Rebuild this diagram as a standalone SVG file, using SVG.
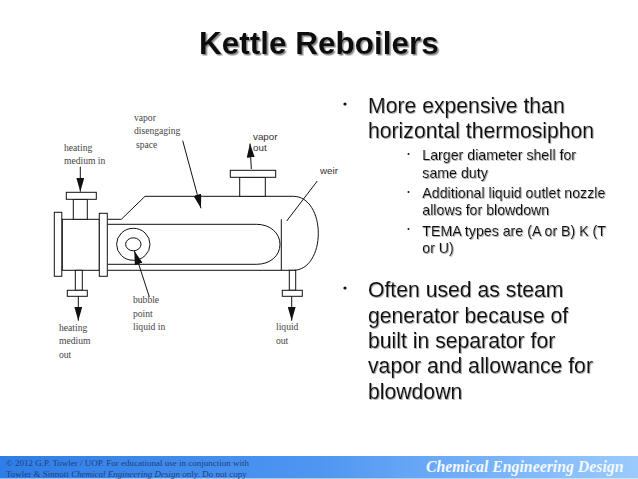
<svg xmlns="http://www.w3.org/2000/svg" width="638" height="479" viewBox="0 0 638 479">
<style>
.ln{fill:none;stroke:#111;stroke-width:1}
.box{fill:#fff;stroke:#111;stroke-width:1}
.lbl{font-family:"Liberation Serif",serif;font-size:9.6px;fill:#444}
.sl{font-family:"Liberation Sans",sans-serif;font-size:9.8px;fill:#333}
.t1{font-family:"Liberation Sans",sans-serif;font-size:21.2px;fill:#111;filter:url(#sh)}
.t2{font-family:"Liberation Sans",sans-serif;font-size:14.2px;fill:#111;filter:url(#sh)}
.title{font-family:"Liberation Sans",sans-serif;font-size:31.5px;font-weight:bold;fill:#111;filter:url(#sh2)}
.bu{fill:#111}
.ft{font-family:"Liberation Serif",serif;font-size:9px;fill:#1d4278}
</style>
<defs>
<filter id="sh" x="-5%" y="-20%" width="110%" height="150%"><feDropShadow dx="0.8" dy="0.8" stdDeviation="0.4" flood-color="#999"/></filter>
<filter id="sh2" x="-5%" y="-20%" width="110%" height="150%"><feDropShadow dx="1.5" dy="1.5" stdDeviation="0.6" flood-color="#888"/></filter>
<linearGradient id="bar" x1="0" x2="1" y1="0" y2="0"><stop offset="0" stop-color="#2f7de6"/><stop offset="0.5" stop-color="#4f96f2"/><stop offset="1" stop-color="#9bcbfd"/></linearGradient>
<marker id="ah" markerUnits="userSpaceOnUse" markerWidth="14" markerHeight="8" refX="14" refY="4" viewBox="0 0 14 8" orient="auto"><path d="M0 0L14 4L0 8Z" fill="#111"/></marker>
</defs>
<rect width="638" height="479" fill="#fff"/>
<g id="title"><text class="title" x="199" y="53.5">Kettle Reboilers</text></g>
<g id="exchanger">
<path class="ln" d="M107.3 219.3H121.3L145 196.3H293.3C309 196.3 318.3 214 318.3 233.3C318.3 253 309 270.3 293.3 270.3H107.3"/>
<path class="ln" d="M107.3 224.3H256.7C270 224.3 280 233 280 244.3C280 256 270 264.3 256.7 264.3H107.3"/>
<path class="ln" d="M281.3 219.3V270.3"/>
<ellipse class="ln" cx="133.3" cy="244.3" rx="16.7" ry="16"/>
<ellipse class="ln" cx="133.3" cy="244.3" rx="7.7" ry="6.5"/>
<rect class="box" x="62.3" y="219.3" width="37" height="51"/>
<rect class="box" x="54.3" y="212.3" width="7.5" height="64"/>
<rect class="box" x="99.3" y="213.3" width="8" height="63"/>
<rect class="box" x="73.3" y="199.3" width="14" height="20"/>
<rect class="box" x="66.3" y="192.3" width="30" height="7"/>
<rect class="box" x="75.3" y="270.3" width="7" height="20"/>
<rect class="box" x="67.3" y="290.3" width="20" height="6"/>
<rect class="box" x="239.7" y="177.3" width="25.6" height="19"/>
<rect class="box" x="230.3" y="170.3" width="45.4" height="7"/>
<rect class="box" x="289.3" y="270.3" width="6.4" height="20"/>
<rect class="box" x="282.3" y="290.3" width="20" height="6"/>
</g>
<g id="connectors" fill="none" stroke="#111" stroke-width="1">
<path d="M80.3 166.7V191.7" marker-end="url(#ah)"/>
<path d="M78.3 296.3V320.7" marker-end="url(#ah)"/>
<path d="M291.7 296.3V320.7" marker-end="url(#ah)"/>
<path d="M251.3 169L250 143.5" marker-end="url(#ah)"/>
<path d="M149.3 296.7L134.3 250.7" marker-end="url(#ah)"/>
<path d="M182.7 140.7L201 208.3" marker-end="url(#ah)"/>
<path d="M317.3 181L286.7 221"/>
</g>
<g id="labels">
<text class="lbl" x="134" y="120.5">vapor</text>
<text class="lbl" x="134" y="134.3">disengaging</text>
<text class="lbl" x="136" y="148.3">space</text>
<text class="lbl" x="64" y="150.7">heating</text>
<text class="lbl" x="64" y="164.3">medium in</text>
<text class="lbl" x="133" y="303.3">bubble</text>
<text class="lbl" x="133" y="317">point</text>
<text class="lbl" x="133" y="330.3">liquid in</text>
<text class="lbl" x="59" y="330.7">heating</text>
<text class="lbl" x="59" y="344.3">medium</text>
<text class="lbl" x="59" y="358.3">out</text>
<text class="lbl" x="276" y="330">liquid</text>
<text class="lbl" x="276" y="343.5">out</text>
<text class="sl" x="253" y="140">vapor</text>
<text class="sl" x="253" y="151">out</text>
<text class="sl" x="320" y="174">weir</text>
</g>
<g id="bullets">
<circle class="bu" cx="345" cy="104" r="1.6"/>
<text class="t1" x="368" y="112.7">More expensive than</text>
<text class="t1" x="368" y="137.7">horizontal thermosiphon</text>
<circle class="bu" cx="408.5" cy="154" r="1"/>
<text class="t2" x="422.3" y="160.3">Larger diameter shell for</text>
<text class="t2" x="422.3" y="177.5">same duty</text>
<circle class="bu" cx="408.5" cy="192" r="1"/>
<text class="t2" x="422.3" y="198.3">Additional liquid outlet nozzle</text>
<text class="t2" x="422.3" y="214.5">allows for blowdown</text>
<circle class="bu" cx="408.5" cy="229" r="1"/>
<text class="t2" x="422.3" y="235.7">TEMA types are (A or B) K (T</text>
<text class="t2" x="422.3" y="253">or U)</text>
<circle class="bu" cx="345" cy="288" r="1.6"/>
<text class="t1" x="368" y="296.7">Often used as steam</text>
<text class="t1" x="368" y="322.7">generator because of</text>
<text class="t1" x="368" y="347.7">built in separator for</text>
<text class="t1" x="368" y="373.3">vapor and allowance for</text>
<text class="t1" x="368" y="399">blowdown</text>
</g>
<g id="footer">
<rect x="0" y="456" width="638" height="22.5" fill="url(#bar)"/>
<text class="ft" x="6" y="466">© 2012 G.P. Towler / UOP. For educational use in conjunction with</text>
<text class="ft" x="6" y="476.7">Towler &amp; Sinnott <tspan font-style="italic">Chemical Engineering Design</tspan> only. Do not copy</text>
<text x="426" y="472" font-family="Liberation Serif,serif" font-size="15.8" font-weight="bold" font-style="italic" fill="#f2f8ff">Chemical Engineering Design</text>
</g>
</svg>
